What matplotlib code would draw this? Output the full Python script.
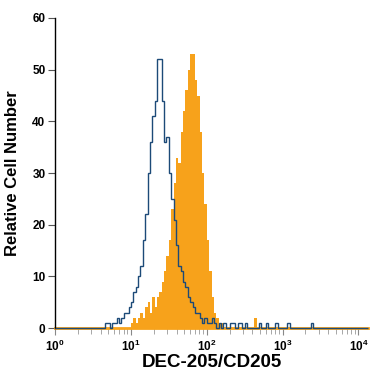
import matplotlib.pyplot as plt
import numpy as np
from matplotlib.ticker import LogLocator, NullFormatter

plt.rcParams['font.family'] = ['Liberation Sans', 'DejaVu Sans']

# channels: 32 bins per decade, from 10^0 to 10^4.125
n_bins = 132
bins_per_decade = 32

# isotype control (blue outline), counts starting at bin 21
blue_start = 21
blue_counts = [1, 1, 0, 1, 1, 2, 1, 2, 3, 3, 4, 5, 7, 8, 10, 12, 17, 22, 30, 36,
               41, 44, 52, 52, 44, 36, 37, 30, 25, 21, 16, 12, 11, 9, 8, 6, 5, 4, 3, 3,
               2, 1, 2, 1, 1, 2, 1, 0, 1, 0, 1, 0, 0, 1, 1, 0, 1, 1, 0, 1,
               0, 0, 0, 0, 0, 1, 0, 0, 1, 0, 0, 0, 1, 0, 0, 0, 0, 1, 0, 0,
               0, 0, 0, 0, 0, 0, 0, 1]

# DEC-205/CD205 stained (orange fill), counts starting at bin 32
orange_start = 32
orange_counts = [1, 2, 1, 2, 3, 2, 4, 5, 3, 6, 4, 6, 7, 9, 11, 14, 17, 23, 28, 33,
                 32, 38, 42, 46, 50, 53, 53, 48, 45, 38, 30, 24, 17, 11, 6, 3, 2, 1, 1, 0,
                 0, 0, 0, 0, 0, 0, 0, 0, 0, 0, 0, 0, 2]

edges = 10 ** (np.arange(n_bins + 1) / bins_per_decade)

blue = np.zeros(n_bins)
blue[blue_start:blue_start + len(blue_counts)] = blue_counts
orange = np.zeros(n_bins)
orange[orange_start:orange_start + len(orange_counts)] = orange_counts

fig = plt.figure(figsize=(3.75, 3.75), dpi=100)
ax = fig.add_axes([0.147, 0.125, 0.834, 0.827])

ax.stairs(orange, edges, fill=True, color='#f7a21b', lw=0)
ax.axhline(0, color='#f7a21b', lw=2, zorder=2, clip_on=False)
ax.stairs(blue, edges, color='#1c4a78', lw=1, zorder=3, clip_on=False)

ax.set_xscale('log')
ax.set_xlim(1, edges[-1])
ax.set_ylim(0, 60)
ax.set_yticks([0, 10, 20, 30, 40, 50, 60])

ax.xaxis.set_major_locator(LogLocator(base=10, numticks=10))
ax.xaxis.set_minor_locator(LogLocator(base=10, subs=np.arange(2, 10), numticks=20))
ax.xaxis.set_minor_formatter(NullFormatter())

for s in ['top', 'right', 'bottom']:
    ax.spines[s].set_visible(False)
ax.spines['left'].set_linewidth(1)

ax.tick_params(axis='x', which='major', length=5, color='#888888', labelsize=8.5, pad=3)
ax.tick_params(axis='x', which='minor', length=4, color='#999999')
ax.tick_params(axis='y', length=5, color='#555555', labelsize=8.5, pad=2)
for lab in ax.get_xticklabels() + ax.get_yticklabels():
    lab.set_fontweight('bold')

ax.set_xlabel('DEC-205/CD205', fontsize=13.5, fontweight='bold', labelpad=0)
ax.set_ylabel('Relative Cell Number', fontsize=12, fontweight='bold', labelpad=9)

fig.savefig('out.png', dpi=100)
